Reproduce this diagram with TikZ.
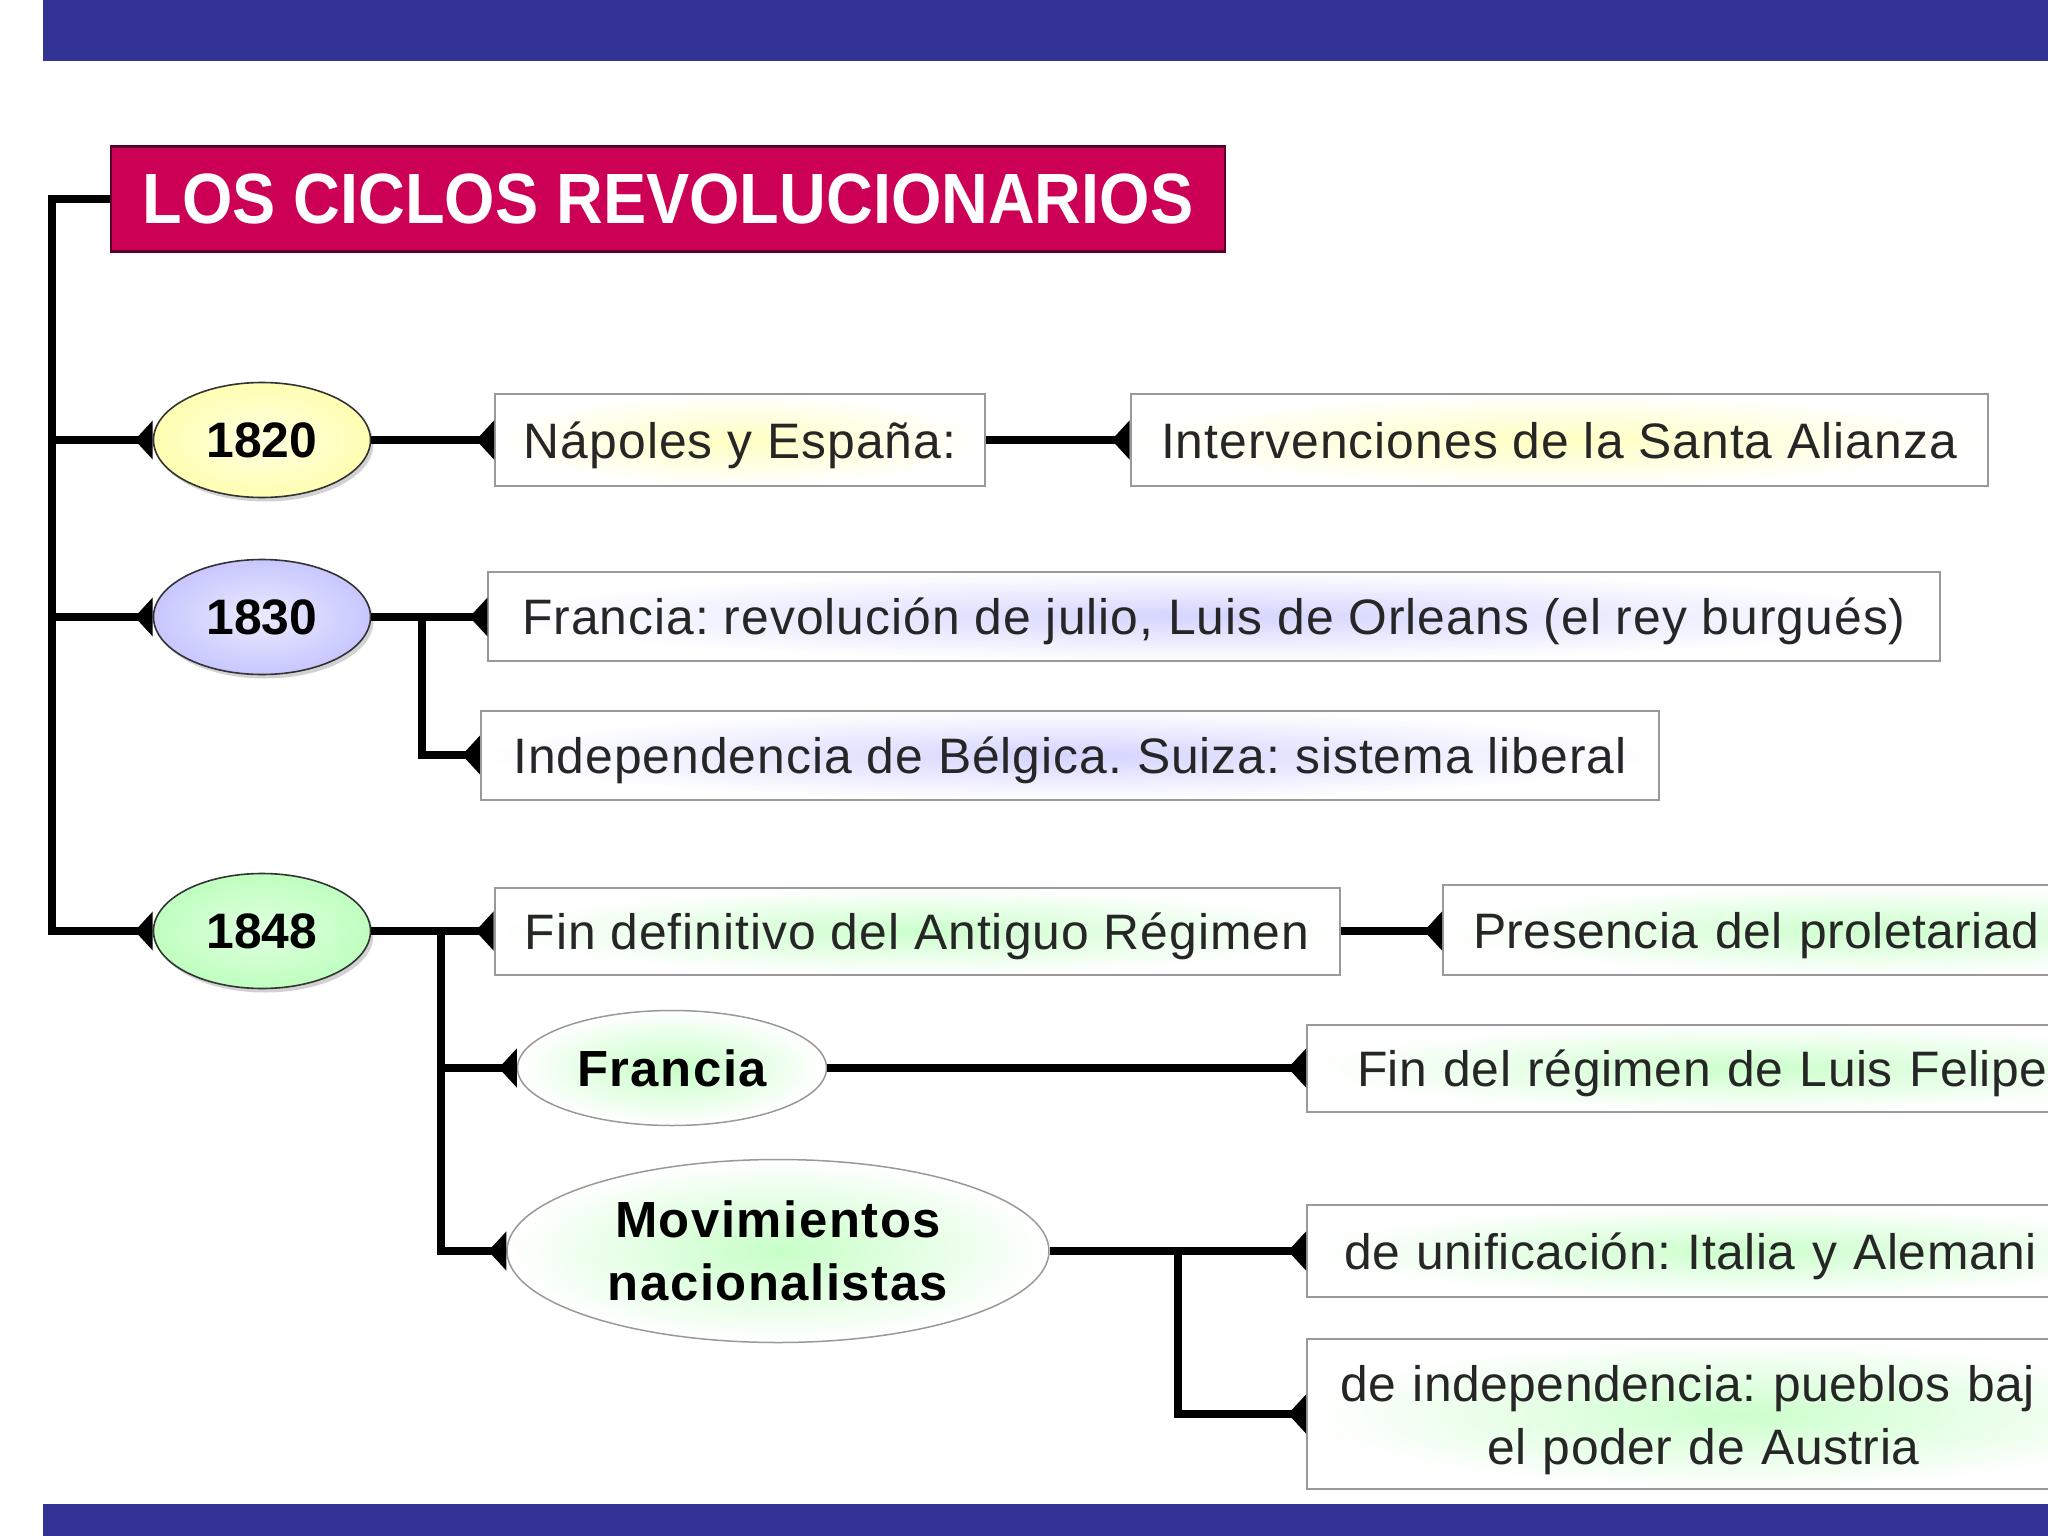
\documentclass[tikz,border=0pt]{standalone}
\usepackage{fontspec}
\setmainfont{Liberation Sans}
\newfontfamily\bodyf[LetterSpace=2]{Liberation Sans}
\newfontfamily\cutf[LetterSpace=1]{Liberation Sans}
\usetikzlibrary{shapes.geometric,arrows.meta,shadows}
\definecolor{barblue}{RGB}{51,51,150}
\definecolor{crimson}{RGB}{204,0,85}
\definecolor{crimsonedge}{RGB}{90,0,40}
\definecolor{txt}{RGB}{38,38,38}
\frenchspacing
\begin{document}
\frenchspacing
\begin{tikzpicture}[x=1bp,y=-1bp,
  conn/.style={line width=8bp,-{Triangle[reversed,length=18bp,width=38bp]}},
  yearnode/.style={ellipse,draw=black!80,line width=1.6bp,minimum width=217bp,minimum height=115bp,inner sep=0pt,
    font=\fontsize{50}{60}\selectfont\bfseries,text=black,
    drop shadow={shadow xshift=3bp,shadow yshift=-4bp,opacity=0.35}},
  subnode/.style={ellipse,draw=black!40,line width=1.5bp,inner sep=0pt,align=center,
    font=\fontsize{51}{63}\selectfont\bfseries\addfontfeature{LetterSpace=3},text=black,
    inner color=green!22,outer color=white},
  boxnode/.style={rectangle,draw=black!40,line width=2bp,inner sep=0pt,
    font=\bodyf\fontsize{50}{63}\selectfont\frenchspacing,text=txt,text height=36bp,text depth=0bp},
  cutbox/.style={boxnode,anchor=west,align=left,text width=800bp,font=\cutf\fontsize{50}{63}\selectfont\frenchspacing},
  ylw/.style={inner color=yellow!24,outer color=white},
  blu/.style={inner color=blue!17,outer color=white},
  grn/.style={inner color=green!20,outer color=white},
]
\useasboundingbox (0,0) rectangle (2048,1536);
\clip (0,0) rectangle (2048,1536);
\fill[white] (0,0) rectangle (2048,1536);
% bars
\fill[barblue] (43,0) rectangle (2048,61);
\fill[barblue] (43,1504) rectangle (2048,1536);

% title
\node[rectangle,fill=crimson,draw=crimsonedge,line width=2.5bp,minimum width=1114bp,minimum height=105bp,
  inner sep=0pt,text=white,font=\fontsize{65}{70}\selectfont\bfseries] (title) at (668,199)
  {\scalebox{1}[1.1]{LOS CICLOS REVOLUCIONARIOS}};

% year ellipses
\node[yearnode,inner color=yellow!12,outer color=yellow!30] (e1820) at (262,440) {1820};
\node[yearnode,inner color=blue!8,outer color=blue!22] (e1830) at (262,617) {1830};
\node[yearnode,inner color=green!12,outer color=green!25] (e1848) at (262,931) {1848};

% 1820 row
\node[boxnode,ylw,minimum width=490bp,minimum height=92bp] (nap) at (740,440) {Nápoles y España:};
\node[boxnode,ylw,minimum width=857bp,minimum height=92bp] (int) at (1559,440) {Intervenciones de la Santa Alianza};

% 1830 rows
\node[boxnode,blu,minimum width=1451bp,minimum height=89bp] (fra30) at (1214,616) {Francia: revolución de julio, Luis de Orleans (el rey burgués)};
\node[boxnode,blu,minimum width=1178bp,minimum height=89bp] (ind30) at (1070,755) {Independencia de Bélgica. Suiza: sistema liberal};

% 1848 rows
\node[boxnode,grn,minimum width=845bp,minimum height=87bp] (fin) at (917,931) {Fin definitivo del Antiguo Régimen};
\node[cutbox,grn,inner xsep=30bp,minimum height=90bp] (pres) at (1442,930) {Presencia del proletariad};
\node[subnode,minimum width=309bp,minimum height=115bp] (fra48) at (672,1068) {Francia};
\node[cutbox,grn,inner xsep=50bp,minimum height=87bp] (felipe) at (1306,1068) {Fin del régimen de Luis Felipe};
\node[subnode,minimum width=542bp,minimum height=183bp] (mov) at (778,1251) {Movimientos\\nacionalistas};
\node[cutbox,grn,inner xsep=37bp,minimum height=92bp] (unif) at (1306,1251) {de unificación: Italia y Alemani};
\node[cutbox,grn,inner xsep=33bp,minimum height=150bp,text height=,text depth=] (indep) at (1306,1414)
  {\rule{0pt}{49bp}de independencia: pueblos baj\\\hspace*{147bp}el poder de Austria};

% spine
\coordinate (s1820) at (52,440);
\coordinate (s1830) at (52,617);
\coordinate (s1848) at (52,931);
\draw[conn] (title.west) -| (s1848) -- (e1848.west);
\draw[conn] (s1820) -- (e1820.west);
\draw[conn] (s1830) -- (e1830.west);

% 1820 connectors
\draw[conn] (e1820.east) -- (nap.west);
\draw[conn] (nap.east) -- (int.west);

% 1830 connectors
\coordinate (b1830) at (422,617);
\draw[conn] (e1830.east) -- (fra30.west |- e1830.east);
\draw[conn] (b1830) |- (ind30.west);

% 1848 connectors
\coordinate (b1848) at (441,931);
\draw[conn] (e1848.east) -- (fin.west);
\draw[conn] (fin.east) -- (pres.west |- fin.east);
\draw[conn] (b1848) |- (fra48.west);
\draw[conn] (b1848) |- (mov.west);
\draw[conn] (fra48.east) -- (felipe.west);
\coordinate (b2) at (1178,1251);
\draw[conn] (mov.east) -- (unif.west);
\draw[conn] (b2) |- (indep.west);
\end{tikzpicture}
\end{document}
